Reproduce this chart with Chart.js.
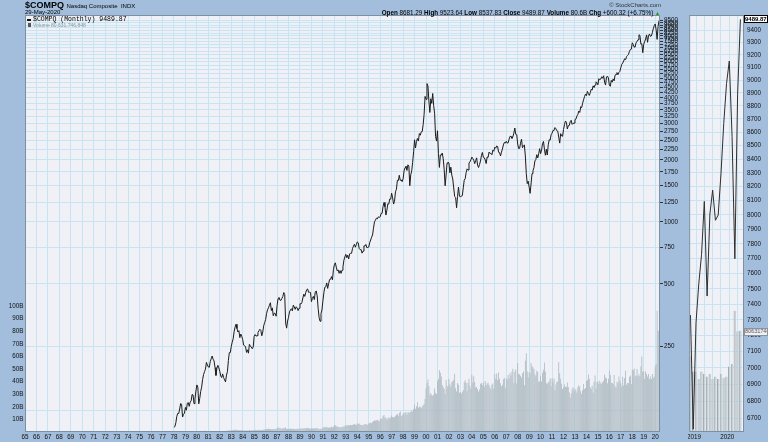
<!DOCTYPE html>
<html>
<head>
<meta charset="utf-8">
<script src="https://cdn.jsdelivr.net/npm/chart.js@4.4.1/dist/chart.umd.min.js"></script>
<style>
  html, body { margin: 0; padding: 0; width: 768px; height: 442px; overflow: hidden; background: #a2bedc; font-family: "Liberation Sans", Arial, sans-serif; }
  canvas { position: absolute; top: 0; }
  #mainChart { left: 0; }
  #zoomChart { left: 688px; }
  .t { position: absolute; white-space: nowrap; line-height: 1; color: #000; }
</style>
</head>
<body>
<canvas id="mainChart" width="688" height="442"></canvas>
<canvas id="zoomChart" width="80" height="442"></canvas>

<div class="t" style="left:25px;top:1px;font-size:9px;font-weight:bold;">$COMPQ <span style="font-weight:normal;font-size:6px;">Nasdaq Composite&nbsp; INDX</span></div>
<div class="t" style="left:25px;top:9px;font-size:6px;">29-May-2020</div>
<div class="t" style="right:107px;top:2px;font-size:6px;color:#333;">&copy; StockCharts.com</div>
<div class="t" style="right:108px;top:10px;font-size:6.3px;"><b>Open</b> 8681.29 <b>High</b> 9523.64 <b>Low</b> 8537.83 <b>Close</b> 9489.87 <b>Volume</b> 80.6B <b>Chg</b> +600.32 (+6.75%) <span style="color:#1a9a1a;font-size:5px;">&#9650;</span></div>

<div class="t" style="left:27px;top:19px;width:4px;height:2px;background:#111;"></div>
<div class="t" style="left:33px;top:17px;font-size:6.5px;font-family:'Liberation Mono',monospace;">$COMPQ (Monthly) 9489.87</div>
<div class="t" style="left:28px;top:23px;width:3px;height:4px;background:#555;"></div>
<div class="t" style="left:33px;top:23px;font-size:5px;color:#8c96a0;">Volume 80,631,746,848</div>

<div class="t" style="left:744px;top:15px;width:22px;height:6px;border:1px solid #000;background:#fff;font-size:6px;font-weight:bold;overflow:hidden;">9489.87</div>
<div class="t" style="left:744px;top:328px;width:22px;height:6px;border:1px solid #8a949c;background:#eef0f4;font-size:5.5px;color:#555;overflow:hidden;">80631746848</div>

<script>
// Nasdaq Composite monthly closes (Jan 1978 .. May 2020)
const firstCloseYear = 1978;
const close1970s = [
  100.8, 101.6, 106.2, 114.0, 117.8, 117.5, 123.6, 131.4, 130.4, 113.0, 116.5, 118.0,
  125.8, 122.0, 131.8, 132.8, 127.4, 133.7, 135.4, 145.4, 144.7, 131.2, 138.1, 151.1
];
const close1980s = [
  161.8, 158.0, 131.0, 139.0, 150.5, 157.8, 171.8, 181.5, 187.8, 192.8, 208.1, 202.3,
  197.8, 197.0, 210.2, 216.7, 223.5, 215.8, 211.6, 196.5, 180.0, 195.2, 201.4, 195.8,
  188.4, 178.8, 175.7, 183.0, 175.6, 171.3, 167.4, 180.6, 187.7, 212.6, 232.3, 232.4,
  248.4, 260.7, 270.8, 293.1, 308.7, 318.7, 303.9, 292.4, 296.7, 274.6, 285.7, 278.6,
  268.4, 252.6, 250.8, 247.4, 232.8, 239.6, 230.8, 254.6, 249.9, 247.0, 242.5, 247.4,
  278.7, 284.2, 279.2, 280.6, 290.8, 296.2, 301.3, 297.7, 280.3, 292.5, 313.9, 324.9,
  335.8, 359.5, 374.7, 383.2, 394.2, 405.5, 371.4, 382.9, 350.7, 360.8, 359.6, 348.8,
  392.1, 424.0, 430.1, 417.8, 416.3, 424.7, 434.9, 454.5, 444.3, 323.3, 305.2, 330.5,
  344.7, 366.0, 374.6, 379.2, 370.3, 394.7, 387.3, 376.6, 387.7, 382.5, 371.5, 381.4,
  401.3, 399.7, 406.7, 427.5, 446.2, 435.3, 453.8, 469.3, 472.9, 455.6, 456.1, 454.8
];
const close1990s = [
  410.7, 425.8, 435.5, 420.1, 458.0, 462.3, 438.2, 381.2, 344.5, 329.8, 359.1, 373.8,
  414.2, 453.1, 482.3, 484.7, 506.1, 475.9, 502.0, 525.7, 526.9, 542.9, 523.9, 586.3,
  620.2, 633.5, 603.8, 578.7, 585.3, 563.6, 580.8, 563.1, 583.3, 605.2, 652.7, 677.0,
  696.3, 670.8, 690.1, 661.4, 700.5, 703.9, 704.7, 742.8, 762.8, 779.3, 754.4, 776.8,
  800.5, 792.5, 743.5, 733.8, 735.2, 706.0, 722.2, 765.6, 764.3, 777.5, 750.3, 752.0,
  755.2, 793.7, 817.2, 843.9, 864.6, 933.5, 1001.2, 1020.1, 1043.5, 1036.1, 1059.2, 1052.1,
  1059.8, 1100.1, 1101.4, 1190.5, 1243.4, 1185.0, 1080.6, 1141.5, 1226.9, 1221.5, 1292.6, 1291.0,
  1379.9, 1309.0, 1221.7, 1260.8, 1400.3, 1442.1, 1593.8, 1587.3, 1685.7, 1593.6, 1600.6, 1570.4,
  1619.4, 1770.5, 1835.7, 1868.4, 1778.9, 1894.7, 1872.4, 1499.3, 1694.8, 1771.4, 1949.5, 2192.7,
  2505.9, 2288.0, 2461.4, 2542.9, 2470.5, 2686.1, 2638.5, 2739.4, 2746.2, 2966.4, 3336.2, 4069.3
];
const close2000s = [
  3940.4, 4696.7, 4572.8, 3860.7, 3400.9, 3966.1, 3766.9, 4206.4, 3672.8, 3369.6, 2597.9, 2470.5,
  2772.7, 2151.8, 1840.3, 2116.2, 2110.5, 2160.5, 2027.1, 1805.4, 1498.8, 1690.2, 1930.6, 1950.4,
  1934.0, 1731.5, 1845.4, 1688.2, 1615.7, 1463.2, 1328.3, 1314.9, 1172.1, 1329.8, 1478.8, 1335.5,
  1320.9, 1337.5, 1341.2, 1464.3, 1595.9, 1622.8, 1735.0, 1810.5, 1786.9, 1932.2, 1960.3, 2003.4,
  2066.2, 2029.8, 1994.2, 1920.2, 1986.7, 2047.8, 1887.4, 1838.1, 1896.8, 1974.9, 2096.8, 2175.4,
  2062.4, 2051.7, 1999.2, 1921.7, 2068.2, 2057.0, 2184.8, 2152.1, 2151.7, 2120.3, 2232.8, 2205.3,
  2305.8, 2281.4, 2339.8, 2322.6, 2178.9, 2172.1, 2091.5, 2183.8, 2258.4, 2366.7, 2431.8, 2415.3,
  2463.9, 2416.2, 2421.6, 2525.1, 2604.5, 2603.2, 2546.3, 2596.4, 2701.5, 2859.1, 2660.9, 2652.3,
  2389.9, 2271.5, 2279.1, 2412.8, 2522.7, 2293.0, 2325.6, 2367.5, 2091.9, 1720.9, 1535.6, 1577.0,
  1476.4, 1377.8, 1528.6, 1717.3, 1774.3, 1835.0, 1978.5, 2009.1, 2122.4, 2045.1, 2144.6, 2269.2
];
const close2010s = [
  2147.4, 2238.3, 2398.0, 2461.2, 2257.0, 2109.2, 2254.7, 2114.0, 2368.6, 2507.4, 2498.2, 2652.9,
  2700.1, 2782.3, 2781.1, 2873.5, 2835.3, 2773.5, 2756.4, 2579.5, 2415.4, 2684.4, 2620.3, 2605.2,
  2813.8, 2966.9, 3091.6, 3046.4, 2827.3, 2935.1, 2939.5, 3066.9, 3116.2, 2977.2, 3010.2, 3019.5,
  3142.1, 3160.2, 3267.5, 3328.8, 3456.0, 3403.3, 3626.4, 3589.9, 3771.5, 3919.7, 4059.9, 4176.6,
  4103.9, 4308.1, 4199.0, 4114.6, 4242.6, 4408.2, 4369.8, 4580.3, 4493.4, 4630.7, 4791.6, 4736.1,
  4635.2, 4963.5, 4900.9, 4941.4, 5070.0, 4986.9, 5128.3, 4776.5, 4620.2, 5053.8, 5108.7, 5007.4,
  4614.0, 4558.0, 4869.9, 4775.4, 4948.1, 4843.0, 5162.1, 5213.2, 5312.0, 5189.1, 5323.7, 5383.1,
  5614.8, 5825.4, 5911.7, 6047.6, 6198.5, 6140.4, 6348.1, 6428.7, 6496.0, 6727.7, 6874.0, 6903.4,
  7411.5, 7273.0, 7063.4, 7066.3, 7442.1, 7510.3, 7671.8, 8109.5, 8046.4, 7305.9, 7330.5, 6635.3,
  7281.7, 7532.5, 7729.3, 8095.4, 7453.2, 8006.2, 8175.4, 7962.9, 7999.3, 8292.4, 8665.5, 8972.6
];
const close2020s = [9150.9, 8567.4, 7700.1, 8889.6, 9489.9];

// Monthly volume in billions (Jan 1980 .. May 2020)
const firstVolYear = 1980;
const vol1980s = [
  0.6, 0.6, 0.6, 0.5, 0.6, 0.7, 0.8, 0.8, 0.9, 0.9, 0.8, 0.8,
  0.8, 0.7, 0.8, 0.8, 0.8, 0.7, 0.6, 0.6, 0.6, 0.7, 0.7, 0.7,
  0.7, 0.6, 0.7, 0.7, 0.6, 0.6, 0.6, 0.9, 0.9, 1.2, 1.2, 1.1,
  1.4, 1.5, 1.5, 1.6, 1.9, 1.9, 1.5, 1.4, 1.5, 1.4, 1.4, 1.3,
  1.4, 1.2, 1.2, 1.1, 1.2, 1.1, 1.1, 1.5, 1.2, 1.3, 1.2, 1.3,
  1.6, 1.7, 1.5, 1.5, 1.7, 1.6, 1.8, 1.5, 1.5, 1.7, 1.8, 2.0,
  2.2, 2.3, 2.4, 2.5, 2.4, 2.3, 2.2, 2.2, 2.2, 2.3, 2.3, 2.4,
  3.2, 3.3, 3.3, 3.0, 2.8, 2.8, 3.0, 3.0, 2.9, 3.7, 2.4, 2.5,
  2.4, 2.6, 2.7, 2.4, 2.3, 2.8, 2.4, 2.4, 2.3, 2.5, 2.5, 2.4,
  2.7, 2.7, 2.8, 2.8, 3.0, 2.9, 2.7, 3.1, 2.9, 3.1, 2.8, 2.6
];
const vol1990s = [
  2.9, 2.7, 3.0, 2.7, 3.0, 3.0, 2.9, 2.8, 2.3, 2.5, 2.5, 2.3,
  3.3, 3.8, 4.0, 3.9, 3.7, 3.5, 3.4, 3.5, 3.6, 4.1, 3.8, 4.2,
  5.5, 5.1, 4.6, 4.4, 3.9, 3.9, 3.8, 3.5, 4.0, 4.2, 4.5, 4.6,
  5.3, 5.2, 5.5, 5.1, 5.3, 5.6, 5.3, 5.5, 6.1, 6.2, 5.8, 5.8,
  6.7, 6.2, 6.7, 5.8, 5.6, 5.6, 5.3, 6.0, 6.1, 6.3, 6.0, 5.6,
  7.0, 7.0, 7.5, 7.0, 8.0, 8.7, 9.4, 8.9, 9.2, 9.7, 9.0, 8.6,
  10.3, 10.6, 10.7, 12.5, 13.4, 11.1, 11.8, 9.8, 10.8, 11.7, 10.8, 11.6,
  13.1, 12.0, 11.8, 11.9, 12.9, 13.6, 14.3, 12.7, 15.0, 16.2, 12.7, 13.2,
  14.7, 14.6, 15.4, 15.8, 13.7, 15.4, 15.6, 15.2, 16.0, 16.9, 16.2, 18.2,
  21.8, 18.5, 20.5, 23.6, 19.3, 20.3, 19.9, 19.1, 20.4, 21.2, 22.5, 26.3
];
const vol2000s = [
  34.5, 38.9, 41.6, 36.5, 29.6, 31.0, 29.3, 28.8, 29.6, 34.6, 31.1, 30.1,
  40.5, 42.0, 49.0, 47.1, 44.0, 37.2, 35.5, 34.2, 30.1, 41.5, 36.4, 36.3,
  42.1, 38.0, 36.1, 39.7, 40.3, 41.4, 46.3, 34.8, 32.2, 38.9, 37.6, 31.2,
  31.8, 30.3, 31.9, 33.4, 39.5, 41.1, 39.0, 32.6, 38.9, 42.2, 36.5, 34.1,
  45.5, 39.3, 44.2, 39.6, 35.4, 35.7, 34.2, 32.1, 33.8, 38.2, 38.9, 37.3,
  39.2, 35.9, 40.5, 37.1, 38.5, 39.1, 37.4, 35.3, 33.7, 37.5, 38.4, 34.4,
  46.0, 42.2, 46.5, 41.2, 47.2, 42.3, 38.6, 36.4, 37.5, 41.9, 42.9, 34.9,
  42.4, 41.6, 45.2, 42.5, 46.8, 44.9, 48.0, 50.2, 38.7, 47.8, 49.6, 38.4,
  54.8, 46.2, 45.6, 44.7, 43.2, 46.6, 48.0, 37.2, 56.6, 62.6, 48.1, 43.3,
  47.6, 46.2, 54.7, 52.3, 51.1, 50.1, 45.8, 44.2, 48.7, 47.6, 40.1, 40.1
];
const vol2010s = [
  44.6, 40.1, 47.1, 49.5, 55.2, 47.8, 38.6, 38.3, 39.5, 40.1, 42.5, 36.3,
  42.4, 39.4, 42.4, 33.4, 37.8, 39.9, 39.9, 55.6, 46.6, 42.2, 38.2, 34.2,
  35.4, 37.8, 35.8, 36.0, 39.2, 35.8, 31.6, 27.4, 30.6, 34.2, 35.6, 32.5,
  34.4, 33.1, 31.1, 35.5, 37.2, 35.9, 32.4, 30.1, 33.1, 38.1, 34.1, 35.0,
  40.5, 41.3, 45.7, 42.3, 35.5, 34.2, 36.8, 31.3, 39.8, 44.8, 34.5, 39.7,
  40.1, 38.2, 40.6, 38.6, 38.2, 39.6, 40.7, 45.6, 43.2, 42.5, 38.7, 42.2,
  48.6, 45.2, 39.1, 38.9, 38.1, 45.2, 36.3, 35.3, 39.9, 38.5, 44.0, 40.6,
  38.6, 36.1, 43.9, 37.0, 42.9, 48.7, 37.5, 38.9, 38.6, 43.8, 44.9, 38.1,
  49.6, 49.0, 50.5, 44.0, 44.8, 50.1, 44.5, 45.8, 44.2, 52.0, 60.0, 48.0,
  48.0, 42.0, 48.0, 46.0, 44.0, 46.0, 42.0, 44.0, 42.0, 46.0, 43.0, 44.0
];
const vol2020s = [52.0, 54.0, 96.2, 80.0, 80.6];

// Axis ticks
const yearLabels = ['65','66','67','68','69','70','71','72','73','74','75','76','77','78','79',
  '80','81','82','83','84','85','86','87','88','89','90','91','92','93','94','95','96','97','98','99',
  '00','01','02','03','04','05','06','07','08','09','10','11','12','13','14','15','16','17','18','19','20'];
const priceTicks = [250, 500, 750, 1000, 1250, 1500, 1750, 2000, 2250, 2500, 2750, 3000, 3250, 3500,
  3750, 4000, 4250, 4500, 4750, 5000, 5250, 5500, 5750, 6000, 6250, 6500, 6750, 7000, 7250, 7500,
  7750, 8000, 8250, 8500, 8750, 9000, 9250, 9500];
const priceGridOnly = [122];
const volTicks = [10, 20, 30, 40, 50, 60, 70, 80, 90, 100];
const zoomPriceTicks = [6700, 6800, 6900, 7000, 7100, 7200, 7300, 7400, 7500, 7600, 7700, 7800, 7900,
  8000, 8100, 8200, 8300, 8400, 8500, 8600, 8700, 8800, 8900, 9000, 9100, 9200, 9300, 9400];
const zoomTicks = [2, 5, 8, 11, 14, 17];          // months since Nov 2018
const zoomTickLabels = ['2019', '', '', '', '2020', ''];
const zoomStart = { year: 2018, month: 10 };      // Nov 2018

const plotBg = '#eff1f6';
const gridColor = '#c8e3f1';
const frameColor = '#7d8fa3';
const tickFont = { family: "'Liberation Sans', Arial, sans-serif", size: 6.3 };

const closes = [...close1970s, ...close1980s, ...close1990s, ...close2000s, ...close2010s, ...close2020s];
const volumes = [...vol1980s, ...vol1990s, ...vol2000s, ...vol2010s, ...vol2020s];

const closePoints = closes.map((v, i) => ({ x: firstCloseYear + i / 12, y: v }));
const volPoints = volumes.map((v, i) => ({ x: firstVolYear + i / 12, y: v }));

const zc = (zoomStart.year - firstCloseYear) * 12 + zoomStart.month;
const zv = (zoomStart.year - firstVolYear) * 12 + zoomStart.month;
const zoomClose = closes.slice(zc).map((v, i) => ({ x: i, y: v }));
const zoomVol = volumes.slice(zv).map((v, i) => ({ x: i, y: v }));

const panelPlugin = {
  id: 'panel',
  beforeDraw(chart) {
    const a = chart.chartArea, ctx = chart.ctx;
    ctx.save();
    ctx.fillStyle = plotBg;
    ctx.fillRect(a.left, a.top, a.right - a.left, a.bottom - a.top);
    ctx.restore();
  },
  afterDraw(chart) {
    const a = chart.chartArea, ctx = chart.ctx;
    ctx.save();
    ctx.strokeStyle = frameColor;
    ctx.lineWidth = 1;
    ctx.strokeRect(a.left + 0.5, a.top + 0.5, a.right - a.left - 1, a.bottom - a.top - 1);
    ctx.restore();
  }
};

Chart.defaults.animation = false;

new Chart(document.getElementById('mainChart'), {
  type: 'bar',
  data: {
    datasets: [
      { type: 'bar', yAxisID: 'yVol', data: volPoints, backgroundColor: '#adb9c0',
        barPercentage: 0.85, categoryPercentage: 1, order: 2 },
      { type: 'line', yAxisID: 'yPrice', data: closePoints, borderColor: '#1c1c1c',
        borderWidth: 1, pointRadius: 0, tension: 0, order: 1 }
    ]
  },
  options: {
    responsive: false,
    devicePixelRatio: 1,
    layout: { padding: { top: 15, left: 0, right: 0, bottom: 0 } },
    plugins: { legend: { display: false }, tooltip: { enabled: false } },
    scales: {
      x: {
        type: 'linear', min: 1965, max: 2020.42, offset: false,
        afterBuildTicks: s => { s.ticks = yearLabels.map((l, i) => ({ value: 1965 + i })); },
        afterFit: s => { s.height = 10; },
        ticks: { autoSkip: false, maxRotation: 0, padding: 1, font: tickFont, color: '#111',
          callback: v => yearLabels[Math.round(v - 1965)] },
        grid: { color: gridColor, drawTicks: false, offset: false },
        border: { display: false }
      },
      yVol: {
        type: 'linear', position: 'left', min: 0, max: 331,
        afterBuildTicks: s => { s.ticks = volTicks.map(v => ({ value: v })); },
        afterFit: s => { s.width = 25; },
        ticks: { padding: 1.5, font: tickFont, color: '#111', callback: v => v + 'B' },
        grid: { display: false, drawTicks: false },
        border: { display: false }
      },
      yPrice: {
        type: 'logarithmic', position: 'right', min: 95.6, max: 10112,
        afterBuildTicks: s => { s.ticks = [...priceGridOnly, ...priceTicks].map(v => ({ value: v })); },
        afterFit: s => { s.width = 28; },
        ticks: { autoSkip: false, padding: 1, font: tickFont, color: '#111',
          callback: v => priceGridOnly.includes(v) ? '' : String(v) },
        grid: { color: gridColor, tickLength: 3,
          tickColor: c => (c.tick && priceGridOnly.includes(c.tick.value)) ? 'rgba(0,0,0,0)' : '#333' },
        border: { display: false }
      }
    }
  },
  plugins: [panelPlugin]
});

new Chart(document.getElementById('zoomChart'), {
  type: 'bar',
  data: {
    datasets: [
      { type: 'bar', yAxisID: 'yVol', data: zoomVol, backgroundColor: '#c8d1d6',
        borderColor: '#97a5ad', borderWidth: { left: 1 }, barPercentage: 0.9, categoryPercentage: 1, order: 2 },
      { type: 'line', yAxisID: 'yPrice', data: zoomClose, borderColor: '#2e2e2e',
        borderWidth: 1, pointRadius: 0, tension: 0, order: 1 }
    ]
  },
  options: {
    responsive: false,
    devicePixelRatio: 1,
    layout: { padding: { top: 15, left: 0, right: 0, bottom: 0 } },
    plugins: { legend: { display: false }, tooltip: { enabled: false } },
    scales: {
      x: {
        type: 'linear', min: -0.47, max: 19.3, offset: false,
        afterBuildTicks: s => { s.ticks = zoomTicks.map(v => ({ value: v })); },
        afterFit: s => { s.height = 10; },
        ticks: { autoSkip: false, maxRotation: 0, padding: 1, labelOffset: -2, font: tickFont, color: '#111',
          callback: v => zoomTickLabels[zoomTicks.indexOf(v)] },
        grid: { color: gridColor, drawTicks: false, offset: false },
        border: { display: false }
      },
      yVol: { type: 'linear', display: false, min: 0, max: 331 },
      yPrice: {
        type: 'logarithmic', position: 'right', min: 6619, max: 9526,
        afterBuildTicks: s => { s.ticks = zoomPriceTicks.map(v => ({ value: v })); },
        afterFit: s => { s.width = 24; },
        ticks: { autoSkip: false, padding: 3, font: tickFont, color: '#111', callback: v => String(v) },
        grid: { color: gridColor, drawTicks: false },
        border: { display: false }
      }
    }
  },
  plugins: [panelPlugin]
});
</script>
</body>
</html>
